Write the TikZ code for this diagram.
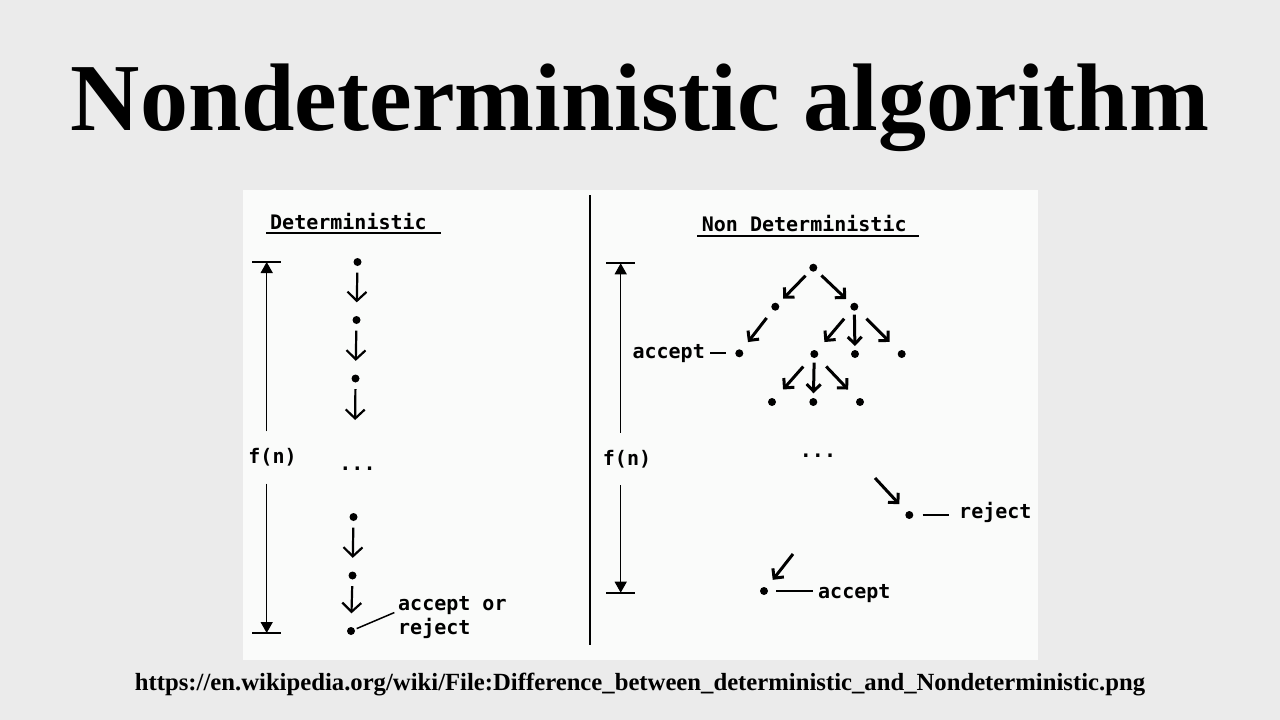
\documentclass[tikz,border=0pt]{standalone}
\usepackage{fontspec}
\setmainfont{Liberation Serif}
\newfontfamily\labelfont{DejaVu Sans Mono}
\usetikzlibrary{arrows.meta}
\definecolor{bggray}{RGB}{235,235,235}
\definecolor{panelwhite}{RGB}{250,251,250}

\begin{document}
\begin{tikzpicture}[x=1pt, y=-1pt,
		lbl/.style={font=\labelfont\bfseries\fontsize{20}{24}\selectfont, inner sep=0pt},
		det/.style={line width=2.2pt, -{Straight Barb[length=9pt,width=19pt]}, shorten <=6.5pt, shorten >=13.5pt},
		nd/.style={line width=3pt, -{Straight Barb[length=7pt,width=14pt]}, shorten <=#1, shorten >=#1},
		span/.style={line width=1.5pt, -{Triangle[length=11pt,width=12pt]}},
		tie/.style={line width=2pt}]
			\useasboundingbox (0,0) rectangle (1280,720);
			\fill[bggray] (0,0) rectangle (1280,720);
			\fill[panelwhite] (243,190) rectangle (1038,660);
			\draw[line width=2pt] (590,195) -- (590,645);
			
			\node[font=\bfseries\fontsize{96}{100}\selectfont, anchor=base, inner sep=0pt] (title) at (640,130) {Nondeterministic algorithm};
			\node[font=\bfseries\fontsize{24.7}{28}\selectfont, anchor=base, inner sep=0pt] (source) at (640,690) {https://en.wikipedia.org/wiki/File:Difference\_between\_deterministic\_and\_Nondeterministic.png};
			
			\begin{scope}[every node/.style={circle,fill,inner sep=0pt,minimum size=8pt}]
			\node (d1) at (357.5,262) {};
			\node (d2) at (356.5,320) {};
			\node (d3) at (355.5,378.5) {};
			
			\node (d4) at (353.5,517) {};
			\node (d5) at (352.5,575.5) {};
			\node (d6) at (351,631) {};
			
			\node (top) at (813.3,267.7) {};
			
			\node (2-1) at (775.3,306.7) {};
			\node (2-2) at (854.3,306.7) {};
			
			\node (3-1) at (739.3,353.3) {};
			\node (3-2) at (814.3,354) {};
			\node (3-3) at (855,354) {};
			\node (3-4) at (901.7,354) {};
			
			\node (4-1) at (772,402) {};
			\node (4-2) at (813.3,402) {};
			\node (4-3) at (860,402) {};
			
			\node (rej) at (909.3,515) {};
			\node (acc) at (764,591) {};
			\end{scope}
			
			\coordinate (d3e) at (355,433.5);
			\coordinate (rejfrom) at (875,478);
			\coordinate (accfrom) at (793,554);
			
			\path [det] (d1) edge (d2);
			\path [det] (d2) edge (d3);
			\path [det] (d3) edge (d3e);
			\path [det] (d4) edge (d5);
			\path [det] (d5) edge (d6);
			
			\path [nd=7pt] (top) edge (2-1);
			\path [nd=7pt] (top) edge (2-2);
			\path [nd=10pt] (2-1) edge (3-1);
			\path [nd=11.5pt] (2-2) edge (3-2);
			\path [nd=3.8pt] (2-2) edge (3-3);
			\path [nd=12.8pt] (2-2) edge (3-4);
			\path [nd=12.5pt] (3-2) edge (4-1);
			\path [nd=4.5pt] (3-2) edge (4-2);
			\path [nd=13pt] (3-2) edge (4-3);
			\path [nd=0pt, shorten >=10.5pt] (rejfrom) edge (rej);
			\path [nd=0pt, shorten >=10pt] (accfrom) edge (acc);
			
			\node[lbl, anchor=base west] (dethead) at (270,229) {Deterministic};
			\draw[tie] ([shift={(-4pt,-3.5pt)}]dethead.base west) -- ([shift={(14pt,-3.5pt)}]dethead.base east);
			\node[lbl, anchor=base west] (ndhead) at (701.7,231.7) {Non Deterministic};
			\draw[tie] ([shift={(-4.5pt,-4.3pt)}]ndhead.base west) -- ([shift={(12pt,-4.3pt)}]ndhead.base east);
			
			\coordinate (ltop) at (266.7,262);
			\coordinate (lbot) at (266.7,633);
			\node[lbl, minimum height=52pt] (fnl) at (272.5,457.5) {f(n)};
			\draw[tie] ([xshift=-14.5pt]ltop) -- ([xshift=14.5pt]ltop);
			\draw[tie] ([xshift=-14.5pt]lbot) -- ([xshift=14.5pt]lbot);
			\draw[span] (fnl.north -| ltop) -- (ltop);
			\draw[span] (fnl.south -| lbot) -- (lbot);
			
			\coordinate (rtop) at (620.7,263.3);
			\coordinate (rbot) at (620.7,592.7);
			\node[lbl, minimum height=52pt] (fnr) at (627,459) {f(n)};
			\draw[tie] ([xshift=-14.5pt]rtop) -- ([xshift=14.5pt]rtop);
			\draw[tie] ([xshift=-14.5pt]rbot) -- ([xshift=14.5pt]rbot);
			\draw[span] (fnr.north -| rtop) -- (rtop);
			\draw[span] (fnr.south -| rbot) -- (rbot);
			
			\node[lbl, anchor=base] (ldots) at (357.5,470) {...};
			\node[lbl, anchor=base] (rdots) at (818,457) {...};
			
			\node[lbl, anchor=north west, align=left] (decide) at (398,596) {accept or\\reject};
			\draw[line width=1.5pt, shorten <=2pt, shorten >=4pt] (d6) -- ([yshift=-15pt]decide.north west);
			
			\node[lbl, anchor=base east] (acclbl) at (705,358.6) {accept};
			\draw[tie, shorten <=5pt, shorten >=9.5pt] (acclbl.east |- 3-1) -- (3-1);
			\node[lbl, anchor=base west] (rejlbl) at (959,518.6) {reject};
			\draw[tie, shorten <=9pt, shorten >=9.7pt] (rej) -- (rejlbl.west |- rej);
			\node[lbl, anchor=base west] (acclbl2) at (818,598) {accept};
			\draw[tie, shorten <=8.2pt, shorten >=5.3pt] (acc) -- (acclbl2.west |- acc);
			\end{tikzpicture}
\end{document}
